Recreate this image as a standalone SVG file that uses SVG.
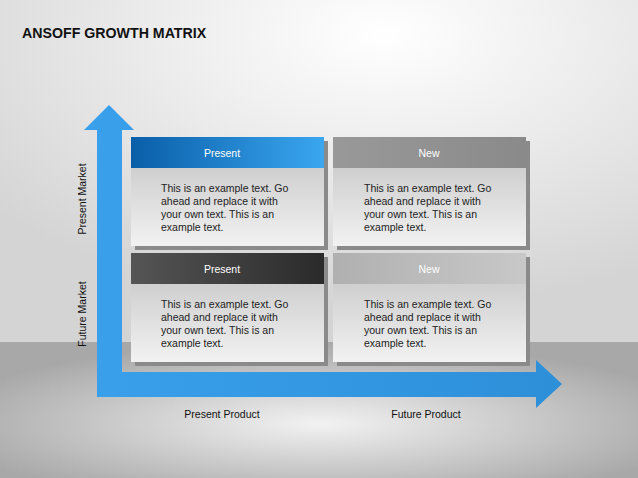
<svg xmlns="http://www.w3.org/2000/svg" width="638" height="478" viewBox="0 0 638 478">
<defs>
<radialGradient id="bgTop" cx="0.6" cy="0.1" r="0.8"><stop offset="0" stop-color="#ffffff"/><stop offset="1" stop-color="#d4d4d4"/></radialGradient>
<radialGradient id="bgBot" cx="0.5" cy="0.6" r="0.6"><stop offset="0" stop-color="#f2f2f2"/><stop offset="1" stop-color="#a8a8a8"/></radialGradient>
<linearGradient id="body" x1="0" y1="0" x2="0" y2="1"><stop offset="0" stop-color="#cfcfcf"/><stop offset="1" stop-color="#f2f2f2"/></linearGradient>
<linearGradient id="hBlue" x1="0" y1="0" x2="1" y2="0"><stop offset="0" stop-color="#0a5ea8"/><stop offset="1" stop-color="#3aa6f0"/></linearGradient>
<linearGradient id="hGray" x1="0" y1="0" x2="1" y2="0"><stop offset="0" stop-color="#999"/><stop offset="1" stop-color="#8a8a8a"/></linearGradient>
<linearGradient id="hDark" x1="0" y1="0" x2="1" y2="0"><stop offset="0" stop-color="#555"/><stop offset="1" stop-color="#2a2a2a"/></linearGradient>
<linearGradient id="hLight" x1="0" y1="0" x2="1" y2="0"><stop offset="0" stop-color="#b0b0b0"/><stop offset="1" stop-color="#c8c8c8"/></linearGradient>
<linearGradient id="arrow" x1="0" y1="0" x2="1" y2="0"><stop offset="0" stop-color="#3aa0ec"/><stop offset="1" stop-color="#2d8fd8"/></linearGradient>
</defs>
<style>
text{font-family:"Liberation Sans",Arial,sans-serif;}
.b{font-size:10.5px;fill:#222}
.h{font-size:10.5px;fill:#fff;text-anchor:middle}
.l{font-size:10.5px;fill:#111}
.sh{fill:#8a8a8a}
</style>
<rect width="638" height="342" fill="url(#bgTop)"/>
<rect y="342" width="638" height="136" fill="url(#bgBot)"/>
<text x="22" y="38" style="font-size:14.2px;font-weight:bold;fill:#111">ANSOFF GROWTH MATRIX</text>
<g id="connectors">
<path d="M97,397 V130 H84 L109,105 L134,130 H122 V372 H536 V360 L562,384 L536,408 V397 Z" fill="url(#arrow)"/>
</g>
<g id="q1">
<rect class="sh" x="135" y="141" width="193" height="109"/>
<rect x="131" y="168" width="193" height="78" fill="url(#body)"/>
<rect x="131" y="137" width="193" height="31" fill="url(#hBlue)"/>
<text class="h" x="222" y="157">Present</text>
<text class="b" x="161" y="192">This is an example text. Go</text>
<text class="b" x="161" y="205">ahead and replace it with</text>
<text class="b" x="161" y="218">your own text. This is an</text>
<text class="b" x="161" y="231">example text.</text>
</g>
<g id="q2">
<rect class="sh" x="337" y="141" width="193" height="109"/>
<rect x="333" y="168" width="193" height="78" fill="url(#body)"/>
<rect x="333" y="137" width="193" height="31" fill="url(#hGray)"/>
<text class="h" x="429" y="157">New</text>
<text class="b" x="364" y="192">This is an example text. Go</text>
<text class="b" x="364" y="205">ahead and replace it with</text>
<text class="b" x="364" y="218">your own text. This is an</text>
<text class="b" x="364" y="231">example text.</text>
</g>
<g id="q3">
<rect class="sh" x="135" y="257" width="193" height="109"/>
<rect x="131" y="284" width="193" height="78" fill="url(#body)"/>
<rect x="131" y="253" width="193" height="31" fill="url(#hDark)"/>
<text class="h" x="222" y="273">Present</text>
<text class="b" x="161" y="308">This is an example text. Go</text>
<text class="b" x="161" y="321">ahead and replace it with</text>
<text class="b" x="161" y="334">your own text. This is an</text>
<text class="b" x="161" y="347">example text.</text>
</g>
<g id="q4">
<rect class="sh" x="337" y="257" width="193" height="109"/>
<rect x="333" y="284" width="193" height="78" fill="url(#body)"/>
<rect x="333" y="253" width="193" height="31" fill="url(#hLight)"/>
<text class="h" x="429" y="273">New</text>
<text class="b" x="364" y="308">This is an example text. Go</text>
<text class="b" x="364" y="321">ahead and replace it with</text>
<text class="b" x="364" y="334">your own text. This is an</text>
<text class="b" x="364" y="347">example text.</text>
</g>
<text class="l" transform="translate(86,199) rotate(-90)" text-anchor="middle">Present Market</text>
<text class="l" transform="translate(86,314) rotate(-90)" text-anchor="middle">Future Market</text>
<text class="l" x="222" y="418" text-anchor="middle">Present Product</text>
<text class="l" x="426" y="418" text-anchor="middle">Future Product</text>
</svg>
